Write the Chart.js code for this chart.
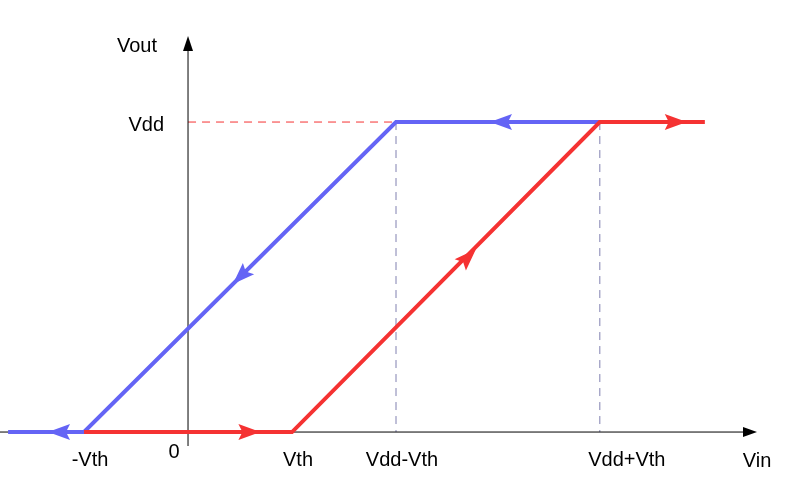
<!DOCTYPE html>
<html lang="en">
<head>
<meta charset="UTF-8">
<title>Hysteresis</title>
<style>
  html, body { margin: 0; padding: 0; background: #fff; }
  #wrap { width: 792px; height: 496px; }
</style>
</head>
<body>
<div id="wrap"><canvas id="hyst"></canvas></div>
<script src="https://cdn.jsdelivr.net/npm/chart.js@4/dist/chart.umd.min.js"></script>
<script>
// units: Vth = 1, Vdd = 3
var bluePath = [[-1.73, 0], [-1, 0], [2, 3], [3.96, 3]];
var redPath = [[-1, 0], [1, 0], [3.96, 3], [4.97, 3]];
// arrow marks: [x, y, dx, dy]
var blueArrows = [[-1.25, 0, -1, 0], [0.5, 1.5, -1, -1], [3.0, 3, -1, 0]];
var redArrows = [[0.6, 0, 1, 0], [2.7, 1.7, 1, 1], [4.7, 3, 1, 0]];
var xTickValues = [-1, 1, 2, 3.96];
var xTickLabels = ['-Vth', 'Vth', 'Vdd-Vth', 'Vdd+Vth'];
var vddLevel = 3;

var BLUE = '#6464f5';
var RED = '#f53232';

function pts(a) { return a.map(function (p) { return { x: p[0], y: p[1] }; }); }

var overlay = {
  id: 'overlay',
  beforeDatasetsDraw: function (chart) {
    var c = chart.ctx, xs = chart.scales.x, ys = chart.scales.y;
    var x0 = xs.getPixelForValue(0), y0 = ys.getPixelForValue(0), yV = ys.getPixelForValue(vddLevel);
    c.save();
    // dashed guides
    c.setLineDash([8, 6]);
    c.lineWidth = 1;
    c.strokeStyle = RED;
    c.beginPath(); c.moveTo(x0, yV); c.lineTo(xs.getPixelForValue(2), yV); c.stroke();
    c.strokeStyle = '#8080b0';
    [2, 3.96].forEach(function (v) {
      var px = xs.getPixelForValue(v);
      c.beginPath(); c.moveTo(px, yV); c.lineTo(px, y0); c.stroke();
    });
    c.setLineDash([]);
    // axes
    c.strokeStyle = '#000';
    c.fillStyle = '#000';
    c.beginPath(); c.moveTo(0, y0); c.lineTo(748, y0); c.stroke();
    c.beginPath(); c.moveTo(x0, 446); c.lineTo(x0, 46); c.stroke();
    c.beginPath(); c.moveTo(757, y0); c.lineTo(743, y0 - 5); c.lineTo(743, y0 + 5); c.closePath(); c.fill();
    c.beginPath(); c.moveTo(x0, 36); c.lineTo(x0 - 5, 51); c.lineTo(x0 + 5, 51); c.closePath(); c.fill();
    // labels
    c.font = '20px "Liberation Sans", Arial, sans-serif';
    c.textBaseline = 'middle';
    c.textAlign = 'center';
    var offs = [6, 6, 6, 27];
    xTickValues.forEach(function (v, i) {
      c.fillText(xTickLabels[i], xs.getPixelForValue(v) + offs[i], 460);
    });
    c.fillText('Vin', 757, 461);
    c.fillText('0', 174, 452);
    c.fillText('Vout', 137, 46);
    c.textAlign = 'right';
    c.fillText('Vdd', 164, 125);
    c.restore();
  },
  afterDatasetsDraw: function (chart) {
    var c = chart.ctx, xs = chart.scales.x, ys = chart.scales.y;
    function draw(list, col) {
      list.forEach(function (a) {
        var px = xs.getPixelForValue(a[0]), py = ys.getPixelForValue(a[1]);
        var dx = xs.getPixelForValue(a[0] + a[2]) - xs.getPixelForValue(a[0]);
        var dy = ys.getPixelForValue(a[1] + a[3]) - ys.getPixelForValue(a[1]);
        var ang = Math.atan2(dy, dx);
        c.save();
        c.translate(px, py); c.rotate(ang);
        c.fillStyle = col;
        c.beginPath(); c.moveTo(10, 0); c.lineTo(-12, -8); c.lineTo(-8, 0); c.lineTo(-12, 8); c.closePath(); c.fill();
        c.restore();
      });
    }
    draw(blueArrows, BLUE);
    draw(redArrows, RED);
  }
};

new Chart(document.getElementById('hyst'), {
  type: 'line',
  data: {
    datasets: [
      { data: pts(bluePath), borderColor: BLUE, borderWidth: 4, pointRadius: 0, tension: 0, order: 2 },
      { data: pts(redPath), borderColor: RED, borderWidth: 4, pointRadius: 0, tension: 0, order: 1 }
    ]
  },
  options: {
    responsive: true,
    maintainAspectRatio: false,
    animation: false,
    layout: { padding: 0 },
    plugins: { legend: { display: false }, tooltip: { enabled: false } },
    scales: {
      x: { type: 'linear', min: -1.808, max: 5.808, display: false },
      y: { type: 'linear', min: -0.619, max: 4.181, display: false }
    }
  },
  plugins: [overlay]
});
</script>
</body>
</html>
